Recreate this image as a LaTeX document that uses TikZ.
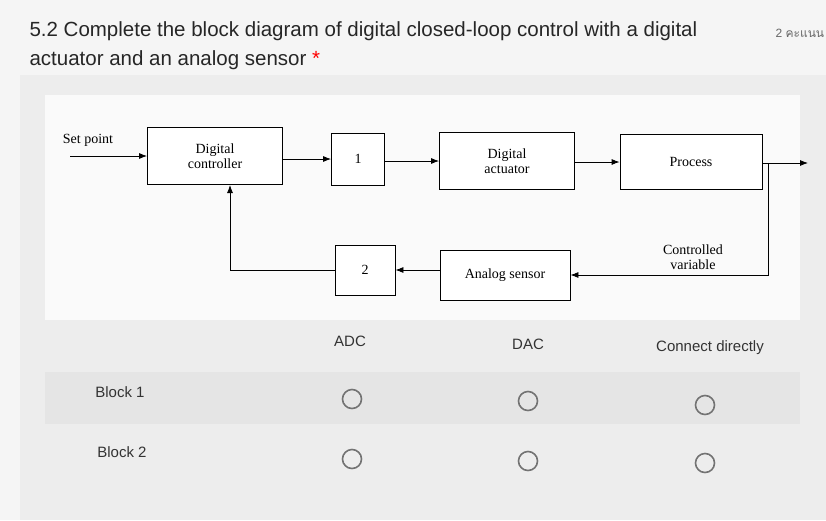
\documentclass[tikz,border=0pt]{standalone}
\usepackage{fontspec}
\setmainfont{Liberation Serif}
\newfontfamily\sfx{Liberation Sans}
\newfontfamily\thaifont[Script=Thai]{Loma}
\usetikzlibrary{arrows.meta}
\begin{document}
\begin{tikzpicture}[x=1pt,y=-1pt,
  blk/.style={draw,thick,fill=white,inner sep=0pt,font=\fontsize{14}{15}\selectfont,align=center},
  con/.style={thick,-{Latex[length=8pt,width=6pt]}},
  lab/.style={font=\sfx\fontsize{15}{16}\selectfont,text=black!80},
  rad/.style={draw=black!55,line width=1.6pt,circle,minimum size=19pt,inner sep=0pt}]
\useasboundingbox (0,0) rectangle (826,520);
\fill[black!4] (0,0) rectangle (826,520);
\fill[black!7] (20,75) rectangle (826,520);
\fill[black!2] (45,95) rectangle (800,320);
\fill[black!10] (45,372) rectangle (800,424);
\node[anchor=west,font=\sfx\fontsize{20.5}{22}\selectfont,text=black!85] (t1) at (26,31) {5.2 Complete the block diagram of digital closed-loop control with a digital};
\node[anchor=west,font=\sfx\fontsize{12}{14}\selectfont,text=black!60] (t0) at (772,33) {2 \thaifont คะแนน};
\node[anchor=west,font=\sfx\fontsize{20.5}{22}\selectfont,text=black!85] (t2) at (26,60) {actuator and an analog sensor \textcolor{red}{*}};
\node[font=\fontsize{14}{15}\selectfont] (sp) at (88,140) {Set point};
\coordinate (in) at (70,156);
\node[blk,minimum width=135pt,minimum height=57pt] (dc) at (215,156) {Digital\\controller};
\node[blk,minimum width=53pt,minimum height=52pt] (b1) at (358,159) {1};
\node[blk,minimum width=135pt,minimum height=57pt] (da) at (507,161) {Digital\\actuator};
\node[blk,minimum width=142pt,minimum height=55pt] (pr) at (691,162) {Process};
\node[blk,minimum width=130pt,minimum height=50pt] (as) at (505,275) {Analog sensor};
\node[blk,minimum width=60pt,minimum height=50pt] (b2) at (365,270) {2};
\node[font=\fontsize{14}{15}\selectfont,align=center] (cv) at (693,257) {Controlled\\variable};
\coordinate (out) at (808,163);
\coordinate (fb) at (768,163);
\draw[con] (in) -- (dc.west|-in);
\draw[con] (dc.east|-b1) -- (b1.west);
\draw[con] (b1.east|-da) -- (da.west);
\draw[con] (da.east|-pr) -- (pr.west);
\draw[con] (pr.east|-out) -- (out);
\draw[con] (fb) -- (fb|-as) -- (as.east);
\draw[con] (as.west|-b2) -- (b2.east);
\draw[con] (b2.west) -- (230,270) -- (230,185);
\node[lab] (h1) at (350,341) {ADC};
\node[lab] (h2) at (528,344) {DAC};
\node[lab] (h3) at (710,348) {Connect directly};
\node[lab] (r1) at (120,392) {Block 1};
\node[lab] (r2) at (122,452) {Block 2};
\node[rad] (c11) at (352,399) {};
\node[rad] (c12) at (528,401) {};
\node[rad] (c13) at (705,405) {};
\node[rad] (c21) at (352,459) {};
\node[rad] (c22) at (528,461) {};
\node[rad] (c23) at (705,463) {};
\end{tikzpicture}
\end{document}
